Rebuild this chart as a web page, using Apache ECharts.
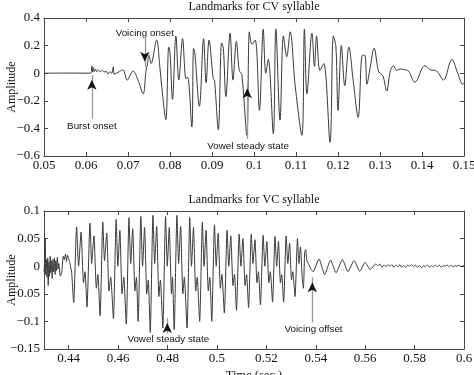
<!DOCTYPE html>
<html>
<head>
<meta charset="utf-8">
<script src="https://cdn.jsdelivr.net/npm/echarts@6.0.0/dist/echarts.min.js"></script>
<style>
  html, body { margin: 0; padding: 0; background: #fff; }
  #chart { width: 474px; height: 375px; }
</style>
</head>
<body>
<div id="chart"></div>
<script>
// CV syllable waveform (time in s, amplitude)
const cvTime = [
  0.0500, 0.0560, 0.0608, 0.0612, 0.0614, 0.0616, 0.0618, 0.0620, 0.0623, 0.0626,
  0.0630, 0.0634, 0.0638, 0.0643, 0.0648, 0.0652, 0.0657, 0.0661, 0.0665, 0.0667,
  0.0672, 0.0680, 0.0688, 0.0698, 0.0712, 0.0725, 0.0736, 0.0743, 0.0746, 0.0750,
  0.0755, 0.0768, 0.0776, 0.0781, 0.0790, 0.0797, 0.0800, 0.0806, 0.0814, 0.0821,
  0.0830, 0.0838, 0.0842, 0.0852, 0.0856, 0.0859, 0.0870, 0.0880, 0.0886, 0.0893,
  0.0903, 0.0906, 0.0915, 0.0923, 0.0927, 0.0933, 0.0943, 0.0950, 0.0958, 0.0965,
  0.0971, 0.0983, 0.0989, 0.0995, 0.1003, 0.1013, 0.1022, 0.1028, 0.1034, 0.1046,
  0.1052, 0.1062, 0.1070, 0.1078, 0.1086, 0.1098, 0.1114, 0.1120, 0.1126, 0.1138,
  0.1144, 0.1149, 0.1157, 0.1166, 0.1181, 0.1189, 0.1195, 0.1200, 0.1208, 0.1216,
  0.1226, 0.1236, 0.1248, 0.1258, 0.1264, 0.1269, 0.1276, 0.1286, 0.1297, 0.1307,
  0.1316, 0.1324, 0.1332, 0.1340, 0.1348, 0.1358, 0.1368, 0.1383, 0.1407, 0.1420,
  0.1435, 0.1451, 0.1471, 0.1485, 0.1497, 0.1500
];
const cvAmp = [
  0.000, 0.001, 0.000, 0.002, 0.053, 0.008, 0.040, 0.012, 0.030, 0.010,
  0.022, 0.012, 0.020, 0.008, 0.015, -0.005, 0.010, 0.000, 0.046, -0.008,
  0.000, 0.012, 0.025, -0.050, 0.015, -0.060, -0.150, 0.020, 0.060, 0.130,
  0.070, 0.240, 0.040, -0.120, -0.337, 0.190, 0.150, -0.190, 0.270, -0.050,
  0.250, -0.040, -0.030, -0.390, 0.180, 0.150, -0.240, 0.250, -0.070, 0.240,
  -0.040, -0.050, -0.410, 0.220, 0.180, -0.170, 0.290, -0.050, 0.230, 0.020,
  -0.010, -0.450, 0.300, 0.210, 0.240, -0.270, 0.320, 0.000, 0.100, -0.440,
  0.320, -0.340, 0.270, 0.120, 0.300, -0.090, -0.450, 0.320, -0.150, 0.290,
  0.050, 0.270, 0.020, 0.070, -0.500, 0.270, 0.190, -0.270, 0.200, -0.090,
  0.190, -0.050, -0.320, 0.130, 0.130, -0.080, 0.030, 0.180, 0.010, -0.020,
  -0.130, 0.010, 0.055, 0.020, 0.030, 0.025, 0.015, -0.065, 0.055, 0.025,
  0.015, -0.050, 0.100, 0.000, -0.080, -0.070
];

// VC syllable waveform
const vcTime = [
  0.4300, 0.4303, 0.4305, 0.4307, 0.4310, 0.4312, 0.4315, 0.4317, 0.4320, 0.4322,
  0.4325, 0.4327, 0.4330, 0.4333, 0.4336, 0.4339, 0.4342, 0.4345, 0.4348, 0.4351,
  0.4354, 0.4357, 0.4360, 0.4366, 0.4372, 0.4378, 0.4382, 0.4387, 0.4391, 0.4395,
  0.4405, 0.4412,
  0.4420, 0.4432, 0.4440, 0.4450, 0.4460, 0.4466,
  0.4474, 0.4486, 0.4493, 0.4502, 0.4512, 0.4518,
  0.4527, 0.4538, 0.4545, 0.4554, 0.4563, 0.4570,
  0.4581, 0.4592, 0.4599, 0.4607, 0.4616, 0.4623,
  0.4633, 0.4644, 0.4651, 0.4659, 0.4668, 0.4674,
  0.4681, 0.4692, 0.4699, 0.4707, 0.4716, 0.4722,
  0.4730, 0.4741, 0.4748, 0.4756, 0.4765, 0.4771,
  0.4781, 0.4792, 0.4799, 0.4807, 0.4816, 0.4820,
  0.4827, 0.4838, 0.4845, 0.4853, 0.4862, 0.4868,
  0.4879, 0.4890, 0.4897, 0.4905, 0.4914, 0.4920,
  0.4930, 0.4941, 0.4948, 0.4956, 0.4965, 0.4971,
  0.4979, 0.4990, 0.4997, 0.5005, 0.5014, 0.5020,
  0.5030, 0.5041, 0.5048, 0.5056, 0.5065, 0.5071,
  0.5079, 0.5090, 0.5097, 0.5105, 0.5114, 0.5120,
  0.5128, 0.5139, 0.5146, 0.5154, 0.5162, 0.5168,
  0.5176, 0.5187, 0.5194, 0.5202, 0.5210, 0.5216,
  0.5225, 0.5235, 0.5242, 0.5249, 0.5257, 0.5262,
  0.5270, 0.5280, 0.5287, 0.5294, 0.5302, 0.5307,
  0.5316, 0.5326, 0.5332, 0.5338, 0.5345, 0.5350,
  0.5355, 0.5359, 0.5364, 0.5370, 0.5380, 0.5389,
  0.5413, 0.5436, 0.5460, 0.5482, 0.5508, 0.5530, 0.5555, 0.5578, 0.5600, 0.5620,
  0.5643, 0.5650, 0.5660, 0.5668, 0.5676, 0.5684, 0.5692, 0.5700, 0.5708, 0.5716,
  0.5724, 0.5732, 0.5740, 0.5748, 0.5756, 0.5764, 0.5772, 0.5780, 0.5788, 0.5796,
  0.5804, 0.5812, 0.5820, 0.5828, 0.5836, 0.5844, 0.5852, 0.5860, 0.5868, 0.5876,
  0.5884, 0.5892, 0.5900, 0.5908, 0.5916, 0.5924, 0.5932, 0.5940, 0.5948, 0.5956,
  0.5964, 0.5972, 0.5980, 0.5988, 0.5996, 0.6000
];
const vcAmp = [
  -0.010, 0.010, 0.050, -0.015, 0.012, -0.020, 0.015, -0.035, 0.008, -0.018,
  0.018, -0.012, 0.010, -0.022, 0.012, -0.010, 0.015, -0.015, 0.010, -0.008,
  0.016, -0.005, 0.005, -0.018, -0.010, 0.018, 0.012, 0.022, 0.008, 0.020,
  0.005, -0.012,
  -0.066, 0.071, 0.000, 0.062, -0.030, -0.010,
  -0.074, 0.078, 0.005, 0.055, -0.040, -0.015,
  -0.090, 0.080, 0.010, 0.060, -0.045, -0.020,
  -0.095, 0.085, 0.000, 0.065, -0.050, -0.020,
  -0.105, 0.088, 0.005, 0.068, -0.045, -0.020,
  -0.100, 0.090, 0.000, 0.070, -0.050, -0.025,
  -0.120, 0.092, 0.005, 0.072, -0.055, -0.025,
  -0.112, 0.090, 0.000, 0.070, -0.050, -0.020,
  -0.115, 0.092, 0.005, 0.072, -0.050, -0.020,
  -0.112, 0.088, 0.000, 0.070, -0.045, -0.020,
  -0.100, 0.080, 0.000, 0.065, -0.045, -0.020,
  -0.100, 0.075, 0.000, 0.060, -0.040, -0.015,
  -0.085, 0.065, 0.000, 0.055, -0.035, -0.015,
  -0.080, 0.058, 0.000, 0.050, -0.035, -0.015,
  -0.075, 0.058, 0.005, 0.048, -0.030, -0.010,
  -0.070, 0.056, 0.000, 0.045, -0.030, -0.010,
  -0.065, 0.054, 0.000, 0.045, -0.030, -0.015,
  -0.065, 0.055, 0.005, 0.042, -0.025, -0.010,
  -0.055, 0.050, 0.005, 0.035, -0.020, -0.040,
  0.025, 0.030, 0.010, 0.005, -0.005, -0.010,
  0.013, -0.015, 0.011, -0.012, 0.012, -0.010, 0.010, -0.009, 0.007, -0.006,
  0.004, 0.001, 0.004, -0.002, 0.002, -0.001, 0.003, 0.000, 0.003, -0.002,
  0.002, -0.001, 0.003, -0.002, 0.001, -0.002, 0.002, 0.000, 0.003, -0.001,
  0.002, -0.002, 0.001, -0.003, 0.001, -0.001, 0.002, -0.002, 0.001, -0.001,
  0.002, -0.001, 0.002, -0.002, 0.001, 0.000, 0.002, -0.001, 0.002, -0.002,
  0.001, 0.000, 0.002, -0.001, 0.001, 0.000
];

const cvXTicks = [0.05, 0.06, 0.07, 0.08, 0.09, 0.1, 0.11, 0.12, 0.13, 0.14, 0.15];
const cvYTicks = [-0.6, -0.4, -0.2, 0, 0.2, 0.4];
const vcXTicks = [0.44, 0.46, 0.48, 0.5, 0.52, 0.54, 0.56, 0.58, 0.6];
const vcYTicks = [-0.15, -0.1, -0.05, 0, 0.05, 0.1];

// annotation text and arrows: [label, textAt, arrowFrom, arrowTip]
const cvNotes = [
  ["Voicing onset", [0.0740, 0.292], [0.0740, 0.256], [0.0740, 0.046]],
  ["Burst onset", [0.0614, -0.382], [0.0614, -0.330], [0.0614, -0.012]],
  ["Vowel steady state", [0.0986, -0.527], [0.0984, -0.477], [0.0984, -0.072]]
];
const vcNotes = [
  ["Vowel steady state", [0.4803, -0.132], [0.4799, -0.122], [0.4799, -0.094]],
  ["Voicing offset", [0.5391, -0.114], [0.5386, -0.102], [0.5386, -0.020]]
];

const serif = "Liberation Serif";
const sans = "Liberation Sans";
const frame = "#444";

const zip = (xs, ys) => xs.map((x, i) => [x, ys[i]]);
const fmt = (v) => String(+v.toFixed(3)).replace("-", "\u2212");

function mainX(grid, min, max, ticks, name) {
  return {
    type: "value", gridIndex: grid, position: "bottom", min, max,
    name, nameLocation: "middle", nameGap: 20, nameMoveOverlap: false,
    nameTextStyle: { fontFamily: serif, fontSize: 12.5, color: "#111" },
    axisLine: { show: true, onZero: false, lineStyle: { color: frame } },
    axisTick: { show: true, inside: true, length: 4, customValues: ticks, lineStyle: { color: frame } },
    axisLabel: { customValues: ticks, formatter: fmt, margin: 3, fontFamily: serif, fontSize: 13, color: "#111" },
    splitLine: { show: false }
  };
}

function topX(grid, min, max, ticks, title) {
  return {
    type: "value", gridIndex: grid, position: "top", min, max,
    name: title, nameLocation: "middle", nameGap: 5, nameMoveOverlap: false,
    nameTextStyle: { fontFamily: serif, fontSize: 12, color: "#111" },
    axisLine: { show: true, onZero: false, lineStyle: { color: frame } },
    axisTick: { show: true, inside: true, length: 4, customValues: ticks, lineStyle: { color: frame } },
    axisLabel: { show: false },
    splitLine: { show: false }
  };
}

function leftY(grid, min, max, ticks) {
  return {
    type: "value", gridIndex: grid, position: "left", min, max,
    name: "Amplitude", nameLocation: "middle", nameGap: 26, nameMoveOverlap: false,
    nameTextStyle: { fontFamily: serif, fontSize: 12, color: "#111" },
    axisLine: { show: true, onZero: false, lineStyle: { color: frame } },
    axisTick: { show: true, inside: true, length: 4, customValues: ticks, lineStyle: { color: frame } },
    axisLabel: { customValues: ticks, formatter: fmt, margin: 4, fontFamily: serif, fontSize: 13, color: "#111" },
    splitLine: { show: false }
  };
}

function rightY(grid, min, max, ticks) {
  return {
    type: "value", gridIndex: grid, position: "right", min, max,
    axisLine: { show: true, onZero: false, lineStyle: { color: frame } },
    axisTick: { show: true, inside: true, length: 4, customValues: ticks, lineStyle: { color: frame } },
    axisLabel: { show: false },
    splitLine: { show: false }
  };
}

function notes(list) {
  return {
    markLine: {
      silent: true, animation: false, symbol: "none",
      lineStyle: { color: "#999", width: 1.3, type: "solid" },
      label: { show: false },
      emphasis: { disabled: true },
      data: list.map((n) => [{ coord: n[2] }, { coord: n[3] }])
    },
    markPoint: {
      silent: true, animation: false,
      data: list.flatMap((n) => {
        const up = n[3][1] > n[2][1];
        return [
          {
            coord: n[3], symbol: "arrow", symbolSize: [7, 10],
            symbolRotate: up ? 0 : 180, symbolOffset: [0, up ? 5 : -5],
            itemStyle: { color: "#111" }, label: { show: false }
          },
          {
            coord: n[1], symbol: "rect", symbolSize: 1,
            itemStyle: { color: "transparent" },
            label: { show: true, position: "inside", formatter: n[0], fontFamily: sans, fontSize: 9.8, color: "#111" }
          }
        ];
      })
    }
  };
}

const chart = echarts.init(document.getElementById("chart"), null, { renderer: "canvas" });

chart.setOption({
  animation: false,
  grid: [
    { left: 44, top: 18, width: 420, height: 138, outerBoundsMode: "none", containLabel: false },
    { left: 44, top: 211, width: 420, height: 138, outerBoundsMode: "none", containLabel: false }
  ],
  xAxis: [
    mainX(0, 0.05, 0.15, cvXTicks, ""),
    topX(0, 0.05, 0.15, cvXTicks, "Landmarks for CV syllable"),
    mainX(1, 0.43, 0.6, vcXTicks, "Time (sec.)"),
    topX(1, 0.43, 0.6, vcXTicks, "Landmarks for VC syllable")
  ],
  yAxis: [
    leftY(0, -0.6, 0.4, cvYTicks),
    rightY(0, -0.6, 0.4, cvYTicks),
    leftY(1, -0.15, 0.1, vcYTicks),
    rightY(1, -0.15, 0.1, vcYTicks)
  ],
  series: [
    Object.assign({
      type: "line", xAxisIndex: 0, yAxisIndex: 0,
      data: zip(cvTime, cvAmp), showSymbol: false, smooth: 0.35,
      lineStyle: { color: "#383838", width: 1 }
    }, notes(cvNotes)),
    Object.assign({
      type: "line", xAxisIndex: 2, yAxisIndex: 2,
      data: zip(vcTime, vcAmp), showSymbol: false, smooth: 0.2,
      lineStyle: { color: "#383838", width: 1 }
    }, notes(vcNotes))
  ]
});
</script>
</body>
</html>
